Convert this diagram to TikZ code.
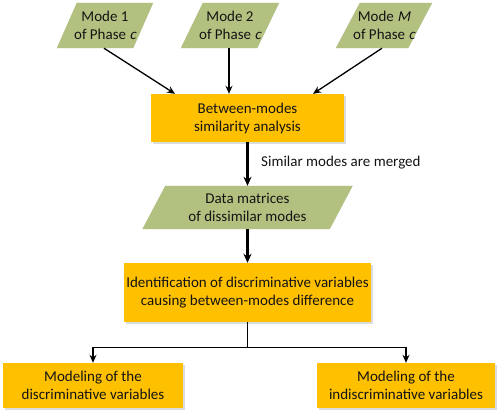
\documentclass[tikz,border=0pt]{standalone}
\usepackage{fontspec}
\setmainfont{Carlito}
\newfontface\slantface{Carlito}[FakeSlant=0.2]
\newcommand{\slt}[1]{{\slantface #1}}
\usetikzlibrary{arrows.meta,shadows,backgrounds}
\definecolor{boxorange}{RGB}{255,192,0}
\definecolor{paragreen}{RGB}{179,193,128}
\definecolor{txt}{RGB}{20,20,20}
\begin{document}
\begin{tikzpicture}[x=1pt,y=-1pt,
  every node/.style={text=txt,font=\fontsize{15}{18}\selectfont,align=center,inner sep=0pt},
  obox/.style={fill=boxorange,drop shadow={shadow xshift=1.5pt,shadow yshift=-1.5pt,fill=black!30,opacity=0.45}},
  arr/.style={-{Stealth[length=8pt,width=7pt]},line width=1.3pt,black},
  tarr/.style={-{Stealth[length=9pt,width=8pt]},line width=2.2pt,black}]
\useasboundingbox (0,0) rectangle (500,413);
% parallelogram helper
\newcommand{\paragram}[2]{%
  \fill[black!30,opacity=0.45,xshift=1.5pt,yshift=-1.5pt] ([xshift=-#2]#1.south west) -- ([xshift=-#2]#1.south east) -- ([xshift=#2]#1.north east) -- ([xshift=#2]#1.north west) -- cycle;
  \fill[paragreen] ([xshift=-#2]#1.south west) -- ([xshift=-#2]#1.south east) -- ([xshift=#2]#1.north east) -- ([xshift=#2]#1.north west) -- cycle;}
% nodes
\node[minimum width=76,minimum height=45] (m1) at (105,25.5) {\phantom{x}};
\node[minimum width=76,minimum height=45] (m2) at (230,25.5) {\phantom{x}};
\node[minimum width=72,minimum height=45] (mM) at (384,25.5) {\phantom{x}};
\node[minimum width=187,minimum height=43] (dm) at (247.5,207.5) {\phantom{x}};
\begin{scope}[on background layer]
\paragram{m1}{10}
\paragram{m2}{11}
\paragram{mM}{12}
\paragram{dm}{11.5}
\end{scope}
\node at (m1) {Mode 1\\of Phase \slt{c}};
\node at (m2) {Mode 2\\of Phase \slt{c}};
\node at (mM) {Mode \slt{M}\\of Phase \slt{c}};
\node at (dm) {Data matrices\\of dissimilar modes};
\node[obox,minimum width=193,minimum height=48] (b1) at (247.5,118) {Between-modes\\similarity analysis};
\node[obox,minimum width=247,minimum height=59] (b3) at (247.5,292.5) {Identification of discriminative variables\\causing between-modes difference};
\node[obox,minimum width=180,minimum height=45] (b4) at (93,385.5) {Modeling of the\\discriminative variables};
\node[obox,minimum width=178,minimum height=45] (b5) at (406,385.5) {Modeling of the\\indiscriminative variables};
\node[anchor=west] (lab) at (261,163) {Similar modes are merged};
% connectors
\coordinate (e1) at ([xshift=-72.5]b1.north);
\coordinate (e3) at ([xshift=65.5]b1.north);
\draw[arr] ([xshift=-1]m1.south) -- (e1);
\draw[arr] ([xshift=-1]m2.south) -- ([xshift=-18.5]b1.north);
\draw[arr] ([xshift=-2]mM.south) -- (e3);
\draw[tarr] (b1.south) -- (dm.north);
\draw[tarr] (dm.south) -- (b3.north);
\coordinate (split) at ([yshift=-25]b3.south);
\draw[line width=1.3pt] (b3.south) -- (split);
\draw[arr] (split) -| (b4.north);
\draw[arr] (split) -| (b5.north);
\end{tikzpicture}
\end{document}
